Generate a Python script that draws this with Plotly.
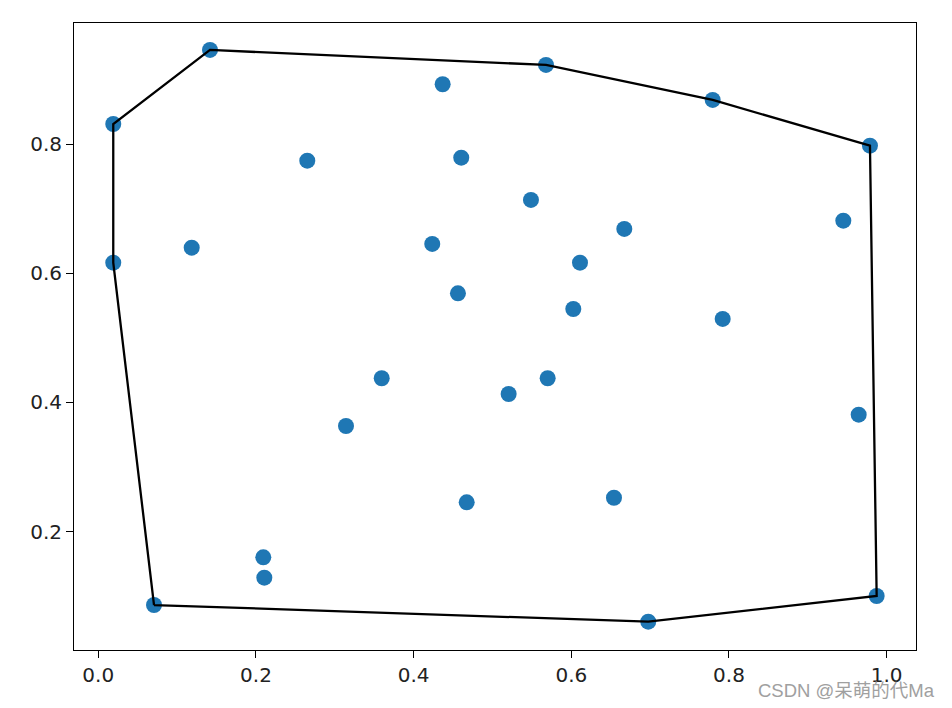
import plotly.graph_objects as go

# All points (x, y)
pts_x = [0.1417, 0.0190, 0.0190, 0.0707, 0.6976, 0.9873, 0.9788, 0.7793, 0.5679,
         0.4368, 0.2651, 0.4604, 0.5488, 0.6672, 0.9450, 0.1185, 0.4236, 0.6110,
         0.4562, 0.6025, 0.7920, 0.3595, 0.5700, 0.5205, 0.3142, 0.9645, 0.6541,
         0.4673, 0.2093, 0.2106]
pts_y = [0.9457, 0.8311, 0.6164, 0.0865, 0.0607, 0.1005, 0.7975, 0.8683, 0.9225,
         0.8926, 0.7743, 0.7789, 0.7135, 0.6686, 0.6814, 0.6396, 0.6454, 0.6164,
         0.5690, 0.5447, 0.5293, 0.4375, 0.4375, 0.4132, 0.3636, 0.3811, 0.2526,
         0.2455, 0.1604, 0.1288]

# Convex hull vertex indices (closed polygon)
hull_idx = [3, 4, 5, 6, 7, 8, 0, 1, 2, 3]
hull_x = [pts_x[i] for i in hull_idx]
hull_y = [pts_y[i] for i in hull_idx]

x_ticks = [0.0, 0.2, 0.4, 0.6, 0.8, 1.0]
y_ticks = [0.2, 0.4, 0.6, 0.8]

fig = go.Figure()
fig.add_trace(go.Scatter(x=pts_x, y=pts_y, mode="markers",
                         marker=dict(color="#1f77b4", size=16, line=dict(width=0)),
                         showlegend=False, hoverinfo="skip"))
fig.add_trace(go.Scatter(x=hull_x, y=hull_y, mode="lines",
                         line=dict(color="black", width=2.3),
                         showlegend=False, hoverinfo="skip"))

axis_common = dict(showline=True, linecolor="black", linewidth=1, mirror=True,
                   ticks="outside", ticklen=7, tickwidth=1, tickcolor="black",
                   showgrid=False, zeroline=False,
                   tickfont=dict(family="DejaVu Sans", size=20, color="#222222"))

fig.update_xaxes(range=[-0.0308, 1.0372], tickvals=x_ticks,
                 ticktext=[f"{v:.1f}" for v in x_ticks], **axis_common)
fig.update_yaxes(range=[0.0169, 0.9874], tickvals=y_ticks,
                 ticktext=[f"{v:.1f}" for v in y_ticks], **axis_common)

fig.add_annotation(text="CSDN @呆萌的代Ma", xref="paper", yref="paper",
                   x=(937 - 74) / (916 - 74), y=-(690 - 650) / (650 - 23),
                   xanchor="right", yanchor="middle", showarrow=False,
                   font=dict(family="Liberation Sans, Noto Sans CJK SC", size=18.5,
                             color="#a0a0a0"))

# page body has an 8px default margin, so the figure is sized to fit inside it
fig.update_layout(width=944, height=700,
                  margin=dict(l=66, r=36, t=15, b=58),
                  paper_bgcolor="white", plot_bgcolor="white")

fig.write_html("out.html")
